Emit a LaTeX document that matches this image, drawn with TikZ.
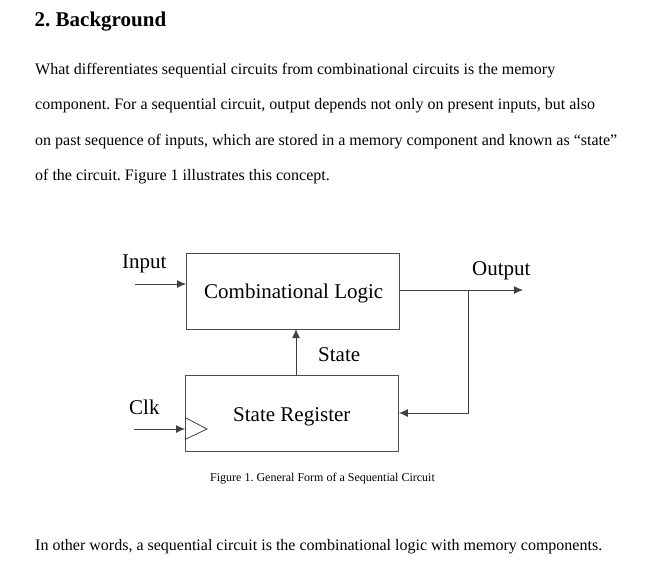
\documentclass[tikz,border=0pt]{standalone}
\usepackage{fontspec}
\setmainfont{Liberation Serif}
\usetikzlibrary{arrows.meta}
\frenchspacing
\begin{document}
\begin{tikzpicture}[x=1pt,y=-1pt,
  txt/.style={inner sep=0pt,anchor=base west},
  body/.style={txt,font=\fontsize{16}{19}\selectfont},
  lbl/.style={inner sep=0pt,anchor=base west,font=\fontsize{21}{25}\selectfont},
  blk/.style={draw=black!70,line width=0.9pt,minimum width=213pt,minimum height=76pt,inner sep=0pt,anchor=north west},
  wire/.style={draw=black!75,line width=0.9pt},
  arr/.style={wire,-{Latex[length=9pt,width=8pt]}}]
\useasboundingbox (0,0) rectangle (651,574);
\fill[white] (0,0) rectangle (651,574);
% text
\node[txt,font=\fontsize{21}{25}\selectfont\bfseries] (head) at (34.5,26) {2. Background};
\node[body] (p1) at (35,74) {What differentiates sequential circuits from combinational circuits is the memory};
\node[body] (p2) at (35,109.5) {component. For a sequential circuit, output depends not only on present inputs, but also};
\node[body] (p3) at (35,145) {on past sequence of inputs, which are stored in a memory component and known as “state”};
\node[body] (p4) at (35,180.5) {of the circuit. Figure 1 illustrates this concept.};
% blocks
\node[blk] (cl) at (186,253) {};
\node[lbl] (cltxt) at (204,298) {Combinational Logic};
\node[blk] (sr) at (185,375) {};
\node[lbl] (srtxt) at (233,421) {State Register};
% labels
\node[lbl] (inl) at (122,268) {Input};
\node[lbl] (outl) at (472,275) {Output};
\node[lbl] (stl) at (318,361) {State};
\node[lbl] (clkl) at (129,414) {Clk};
% coordinates
\coordinate (inS) at (135,284);
\coordinate (inE) at (cl.west |- inS);
\coordinate (outS) at (cl.east |- 0,290);
\coordinate (j) at (468,290);
\coordinate (outE) at (523,290);
\coordinate (fb) at (468,413);
\coordinate (fbE) at (sr.east |- fb);
\coordinate (clkS) at (134,429);
\coordinate (clkE) at (sr.west |- clkS);
\coordinate (stS) at (296,375);
\coordinate (stE) at (296,329);
% connectors
\draw[arr] (inS) -- (inE);
\draw[arr] (outS) -- (outE);
\draw[arr] (j) -- (fb) -- (fbE);
\draw[arr] (stS) -- (stE);
\draw[arr] (clkS) -- (clkE);
% clock triangle
\draw[wire,line width=0.8pt] (185,417.5) -- (207,429) -- (185,439.5);
% caption and final line
\node[txt,font=\fontsize{12}{14}\selectfont] (cap) at (210,481) {Figure 1. General Form of a Sequential Circuit};
\node[body] (p5) at (35,550) {In other words, a sequential circuit is the combinational logic with memory components.};
\end{tikzpicture}
\end{document}
